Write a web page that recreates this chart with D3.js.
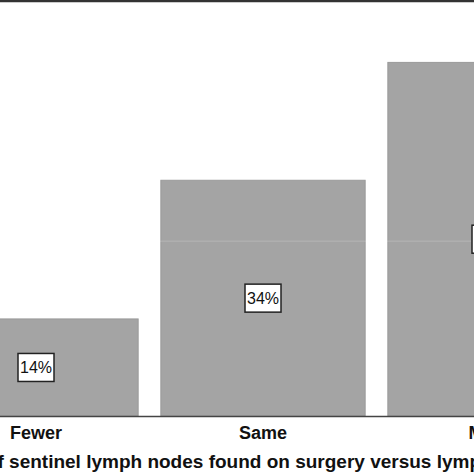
<!DOCTYPE html>
<html>
<head>
<meta charset="utf-8">
<script src="https://cdn.jsdelivr.net/npm/d3@7"></script>
<style>
  body { margin: 0; background: #fff; }
  svg { display: block; }
</style>
</head>
<body>
<div id="chart"></div>
<script>
// data
var categories = ["Fewer", "Same", "More"];
var percents = [14, 34, 51];
var gridValues = [25];
var axisTitle = "Number of sentinel lymph nodes found on surgery versus lymphoscintigraphy";

function init() {
    var w = 474;
    var h = 474;
    var baseY = 416;

    var svg = d3.select("#chart")
        .append("svg")
        .attr("width", w)
        .attr("height", h);

    var x = d3.scaleBand()
        .domain(categories)
        .range([-77.5, 603.5])
        .paddingInner(0.1)
        .paddingOuter(0.05);

    var y = d3.scaleLinear()
        .domain([0, 60])
        .range([baseY, 0]);

    var data = categories.map(function (c, i) {
        return { cat: c, value: percents[i] };
    });

    // bars
    svg.selectAll("rect.bar")
        .data(data)
        .enter()
        .append("rect")
        .attr("class", "bar")
        .attr("x", function (d) { return x(d.cat); })
        .attr("y", function (d) { return y(d.value); })
        .attr("width", x.bandwidth())
        .attr("height", function (d) { return baseY - y(d.value); })
        .attr("fill", "#a4a4a4")
        .attr("stroke", "#9a9a9a")
        .attr("stroke-width", 1);

    // faint gridline that shows through the bars
    svg.selectAll("line.grid")
        .data(gridValues)
        .enter()
        .append("line")
        .attr("class", "grid")
        .attr("x1", 0)
        .attr("x2", w)
        .attr("y1", function (d) { return y(d) - 1.5; })
        .attr("y2", function (d) { return y(d) - 1.5; })
        .attr("stroke", "#fff")
        .attr("stroke-opacity", 0.2)
        .attr("stroke-width", 1);

    // frame top and baseline
    svg.append("line")
        .attr("x1", 0).attr("x2", w)
        .attr("y1", 1).attr("y2", 1)
        .attr("stroke", "#333")
        .attr("stroke-width", 2.5);

    svg.append("line")
        .attr("x1", 0).attr("x2", w)
        .attr("y1", baseY + 0.5).attr("y2", baseY + 0.5)
        .attr("stroke", "#444")
        .attr("stroke-width", 1.5);

    // value label boxes at mid height of each bar
    var labels = svg.selectAll("g.lbl")
        .data(data)
        .enter()
        .append("g")
        .attr("class", "lbl")
        .attr("transform", function (d) {
            var cx = x(d.cat) + x.bandwidth() / 2;
            var cy = (y(d.value) + baseY) / 2;
            return "translate(" + cx + "," + cy + ")";
        });

    labels.append("rect")
        .attr("x", -18)
        .attr("y", -14)
        .attr("width", 36)
        .attr("height", 28)
        .attr("fill", "#fff")
        .attr("stroke", "#222")
        .attr("stroke-width", 1.5);

    labels.append("text")
        .text(function (d) { return d.value + "%"; })
        .attr("text-anchor", "middle")
        .attr("y", 6)
        .attr("font-family", "Liberation Sans, Arial, sans-serif")
        .attr("font-size", "16px")
        .attr("fill", "#111");

    // category labels
    svg.selectAll("text.cat")
        .data(categories)
        .enter()
        .append("text")
        .attr("class", "cat")
        .text(function (d) { return d; })
        .attr("x", function (d) { return x(d) + x.bandwidth() / 2; })
        .attr("y", 439)
        .attr("text-anchor", "middle")
        .attr("font-family", "Liberation Sans, Arial, sans-serif")
        .attr("font-weight", "bold")
        .attr("font-size", "18px")
        .attr("fill", "#111");

    // axis title
    svg.append("text")
        .text(axisTitle)
        .attr("x", x("Same") + x.bandwidth() / 2)
        .attr("y", 468)
        .attr("text-anchor", "middle")
        .attr("font-family", "Liberation Sans, Arial, sans-serif")
        .attr("font-weight", "bold")
        .attr("font-size", "19px")
        .attr("fill", "#111");
}
window.onload = init;
</script>
</body>
</html>
